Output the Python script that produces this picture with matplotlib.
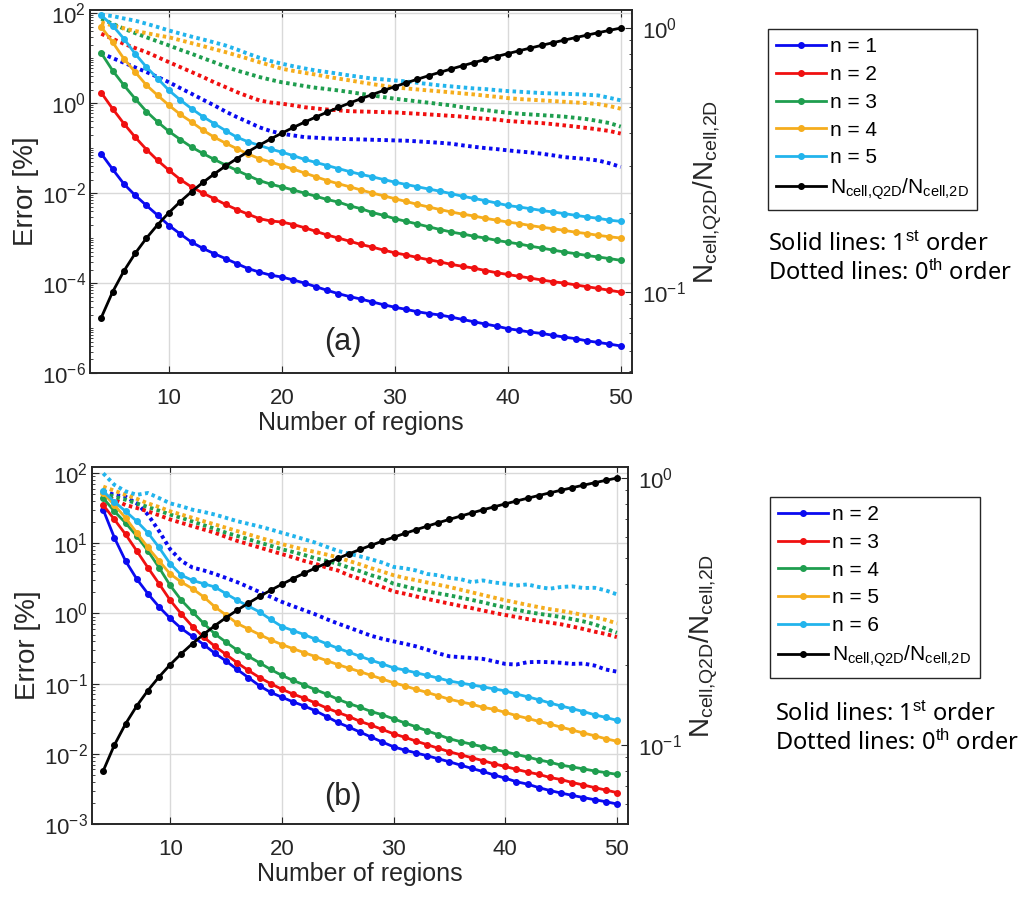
import matplotlib
matplotlib.use('Agg')
import matplotlib.pyplot as plt
import numpy as np
from matplotlib.ticker import LogLocator, NullFormatter

plt.rcParams['font.family'] = 'Liberation Sans'
plt.rcParams['mathtext.fontset'] = 'custom'
plt.rcParams['mathtext.rm'] = 'Liberation Sans'
plt.rcParams['mathtext.it'] = 'Liberation Sans:italic'
plt.rcParams['mathtext.bf'] = 'Liberation Sans:bold'

# number of regions (x axis)
regions = list(range(4, 51))

# N_cell,Q2D / N_cell,2D (right axis, same in both panels)
cell_ratio = [0.08, 0.10, 0.12, 0.14, 0.16, 0.18, 0.20, 0.22, 0.24, 0.26, 0.28, 0.30,
              0.32, 0.34, 0.36, 0.38, 0.40, 0.42, 0.44, 0.46, 0.48, 0.50, 0.52, 0.54,
              0.56, 0.58, 0.60, 0.62, 0.64, 0.66, 0.68, 0.70, 0.72, 0.74, 0.76, 0.78,
              0.80, 0.82, 0.84, 0.86, 0.88, 0.90, 0.92, 0.94, 0.96, 0.98, 1.00]

# ---- panel (a): error [%], 1st order (solid) ----
a_n1 = [7.5e-2, 3.4e-2, 1.6e-2, 8.9e-3, 5.3e-3, 3.2e-3, 1.9e-3, 1.23e-3, 8.1e-4, 5.9e-4,
        4.5e-4, 3.5e-4, 2.7e-4, 2.1e-4, 1.75e-4, 1.5e-4, 1.36e-4, 1.17e-4, 1.0e-4, 8.3e-5,
        6.9e-5, 5.8e-5, 5.0e-5, 4.4e-5, 3.8e-5, 3.3e-5, 2.9e-5, 2.6e-5, 2.3e-5, 2.1e-5,
        1.95e-5, 1.75e-5, 1.55e-5, 1.38e-5, 1.23e-5, 1.1e-5, 9.7e-6, 8.9e-6, 8.1e-6, 7.6e-6,
        6.9e-6, 6.3e-6, 5.8e-6, 5.2e-6, 4.8e-6, 4.4e-6, 4.0e-6]
a_n2 = [1.7, 0.75, 0.35, 0.175, 0.093, 0.053, 0.032, 0.020, 0.0136, 0.0100,
        7.5e-3, 5.6e-3, 4.3e-3, 3.4e-3, 2.7e-3, 2.4e-3, 2.27e-3, 2.0e-3, 1.7e-3, 1.41e-3,
        1.17e-3, 1.0e-3, 8.5e-4, 7.2e-4, 6.3e-4, 5.4e-4, 4.7e-4, 4.2e-4, 3.7e-4, 3.3e-4,
        2.95e-4, 2.6e-4, 2.35e-4, 2.15e-4, 1.9e-4, 1.7e-4, 1.55e-4, 1.41e-4, 1.29e-4, 1.17e-4,
        1.07e-4, 1.0e-4, 9.1e-5, 8.3e-5, 7.6e-5, 6.9e-5, 6.3e-5]
a_n3 = [12.9, 5.3, 2.5, 1.25, 0.65, 0.38, 0.234, 0.155, 0.105, 0.076,
        0.056, 0.042, 0.032, 0.0245, 0.019, 0.0158, 0.0136, 0.0117, 0.0100, 8.5e-3,
        7.2e-3, 6.3e-3, 5.2e-3, 4.5e-3, 3.7e-3, 3.2e-3, 2.7e-3, 2.35e-3, 2.05e-3, 1.78e-3,
        1.55e-3, 1.36e-3, 1.23e-3, 1.1e-3, 1.0e-3, 8.9e-4, 8.1e-4, 7.4e-4, 6.6e-4, 6.0e-4,
        5.4e-4, 4.9e-4, 4.5e-4, 4.1e-4, 3.8e-4, 3.5e-4, 3.2e-4]
a_n4 = [49, 22.7, 9.7, 4.9, 2.5, 1.48, 0.89, 0.56, 0.38, 0.25,
        0.175, 0.129, 0.097, 0.074, 0.058, 0.049, 0.041, 0.034, 0.028, 0.023,
        0.019, 0.0161, 0.0138, 0.0117, 0.0100, 8.7e-3, 7.5e-3, 6.5e-3, 5.6e-3, 4.9e-3,
        4.3e-3, 3.8e-3, 3.4e-3, 3.1e-3, 2.75e-3, 2.5e-3, 2.27e-3, 2.1e-3, 1.9e-3, 1.74e-3,
        1.62e-3, 1.48e-3, 1.35e-3, 1.26e-3, 1.15e-3, 1.07e-3, 1.0e-3]
a_n5 = [89, 53, 27, 12.5, 6.3, 3.5, 1.91, 1.17, 0.75, 0.50,
        0.35, 0.245, 0.175, 0.138, 0.115, 0.095, 0.081, 0.068, 0.056, 0.048,
        0.041, 0.035, 0.030, 0.026, 0.023, 0.020, 0.0175, 0.0155, 0.0138, 0.0123,
        0.0110, 9.7e-3, 8.5e-3, 7.6e-3, 6.8e-3, 6.0e-3, 5.3e-3, 4.9e-3, 4.5e-3, 4.1e-3,
        3.8e-3, 3.5e-3, 3.2e-3, 2.95e-3, 2.75e-3, 2.5e-3, 2.35e-3]

# ---- panel (a): 0th order (dotted) ----
a_n1_0 = [12.9, 10.0, 7.9, 6.2, 4.9, 3.8, 2.9, 2.15, 1.61, 1.19,
          0.89, 0.65, 0.49, 0.38, 0.29, 0.239, 0.208, 0.191, 0.175, 0.170,
          0.164, 0.161, 0.158, 0.156, 0.153, 0.151, 0.148, 0.146, 0.141, 0.136,
          0.131, 0.125, 0.115, 0.107, 0.100, 0.095, 0.089, 0.084, 0.080, 0.075,
          0.069, 0.063, 0.060, 0.057, 0.053, 0.046, 0.038]
a_n2_0 = [34.7, 26.9, 20.8, 16.7, 13.6, 10.5, 8.1, 6.3, 4.9, 3.8,
          2.9, 2.27, 1.76, 1.41, 1.15, 1.03, 0.97, 0.89, 0.81, 0.76,
          0.72, 0.69, 0.66, 0.65, 0.64, 0.63, 0.62, 0.60, 0.58, 0.56,
          0.54, 0.52, 0.50, 0.47, 0.45, 0.43, 0.40, 0.385, 0.37, 0.36,
          0.34, 0.32, 0.30, 0.28, 0.26, 0.24, 0.21]
a_n3_0 = [75, 58, 45, 36, 29, 23.5, 19.1, 15.3, 12.5, 10.0,
          8.1, 6.5, 5.3, 4.5, 3.8, 3.3, 2.9, 2.64, 2.39, 2.19,
          2.05, 1.91, 1.76, 1.61, 1.48, 1.36, 1.25, 1.17, 1.09, 1.02,
          0.95, 0.89, 0.81, 0.75, 0.70, 0.65, 0.61, 0.58, 0.56, 0.54,
          0.52, 0.50, 0.47, 0.44, 0.40, 0.36, 0.30]
a_n4_0 = [62, 53, 46, 40, 36, 32, 29, 25, 21.5, 18.5,
          15.8, 13.6, 11.5, 9.7, 8.1, 6.9, 5.8, 5.2, 4.7, 4.3,
          3.85, 3.5, 3.2, 2.9, 2.64, 2.43, 2.23, 2.12, 2.01, 1.91,
          1.82, 1.73, 1.64, 1.56, 1.46, 1.38, 1.29, 1.23, 1.19, 1.15,
          1.11, 1.07, 1.03, 1.0, 0.95, 0.86, 0.75]
a_n5_0 = [92, 86, 76, 68, 58, 49, 41, 35, 30, 26,
          22.3, 19.1, 15.6, 12.5, 10.2, 8.6, 7.5, 6.6, 5.9, 5.3,
          4.9, 4.5, 4.1, 3.8, 3.5, 3.36, 3.19, 3.03, 2.83, 2.64,
          2.47, 2.35, 2.23, 2.12, 2.05, 1.94, 1.85, 1.79, 1.73, 1.67,
          1.64, 1.61, 1.58, 1.53, 1.48, 1.31, 1.15]

# ---- panel (b): 1st order (solid) ----
b_n2 = [30, 12.0, 5.6, 3.1, 1.91, 1.24, 0.85, 0.61, 0.47, 0.36,
        0.27, 0.21, 0.159, 0.122, 0.093, 0.075, 0.064, 0.055, 0.048, 0.041,
        0.034, 0.028, 0.024, 0.0204, 0.0173, 0.0147, 0.0126, 0.0113, 0.0103, 9.4e-3,
        8.5e-3, 7.7e-3, 6.9e-3, 6.2e-3, 5.6e-3, 5.0e-3, 4.5e-3, 4.0e-3, 3.7e-3, 3.3e-3,
        3.0e-3, 2.76e-3, 2.56e-3, 2.38e-3, 2.22e-3, 2.08e-3, 1.93e-3]
b_n3 = [35, 21.8, 13.4, 7.8, 4.5, 2.65, 1.54, 0.98, 0.65, 0.46,
        0.34, 0.26, 0.198, 0.154, 0.122, 0.100, 0.083, 0.071, 0.062, 0.053,
        0.045, 0.039, 0.034, 0.029, 0.0256, 0.0222, 0.0193, 0.0172, 0.0152, 0.0135,
        0.0120, 0.0107, 9.7e-3, 8.8e-3, 8.0e-3, 7.2e-3, 6.6e-3, 6.0e-3, 5.5e-3, 5.1e-3,
        4.6e-3, 4.3e-3, 3.9e-3, 3.6e-3, 3.3e-3, 3.05e-3, 2.8e-3]
b_n4 = [44, 28.5, 19.5, 12.7, 7.8, 4.5, 2.5, 1.54, 1.05, 0.72,
        0.51, 0.39, 0.30, 0.245, 0.198, 0.159, 0.131, 0.111, 0.096, 0.082,
        0.071, 0.060, 0.052, 0.046, 0.040, 0.036, 0.0315, 0.0276, 0.0243, 0.0213,
        0.0187, 0.0164, 0.0149, 0.0137, 0.0126, 0.0116, 0.0107, 9.8e-3, 9.0e-3, 8.2e-3,
        7.6e-3, 6.9e-3, 6.5e-3, 6.1e-3, 5.7e-3, 5.4e-3, 5.1e-3]
b_n5 = [52, 35, 23, 14.1, 8.7, 5.6, 3.65, 2.79, 2.25, 1.72,
        1.24, 0.95, 0.72, 0.60, 0.50, 0.42, 0.36, 0.315, 0.276, 0.243,
        0.213, 0.187, 0.166, 0.148, 0.131, 0.116, 0.103, 0.093, 0.083, 0.075,
        0.067, 0.060, 0.055, 0.051, 0.046, 0.043, 0.039, 0.035, 0.032, 0.029,
        0.0265, 0.024, 0.0218, 0.0198, 0.0181, 0.0164, 0.0151]
b_n6 = [55, 39, 28.5, 20.6, 14.1, 8.7, 5.1, 3.5, 2.95, 2.65,
        2.38, 1.91, 1.54, 1.27, 1.05, 0.82, 0.65, 0.57, 0.50, 0.43,
        0.37, 0.32, 0.28, 0.245, 0.215, 0.191, 0.168, 0.156, 0.143, 0.131,
        0.120, 0.109, 0.102, 0.096, 0.090, 0.084, 0.079, 0.071, 0.065, 0.059,
        0.053, 0.048, 0.044, 0.040, 0.036, 0.033, 0.030]

# ---- panel (b): 0th order (dotted) ----
b_n2_0 = [55, 49, 46, 37, 25.6, 14.9, 8.2, 5.6, 4.5, 4.1,
          3.65, 3.2, 2.79, 2.38, 2.02, 1.72, 1.46, 1.27, 1.11, 0.97,
          0.83, 0.72, 0.63, 0.55, 0.48, 0.435, 0.40, 0.37, 0.34, 0.305,
          0.27, 0.245, 0.238, 0.232, 0.225, 0.208, 0.191, 0.187, 0.202, 0.204,
          0.202, 0.198, 0.191, 0.193, 0.181, 0.159, 0.148]
b_n3_0 = [49, 41.7, 35, 31.8, 28.5, 25, 21.8, 19.5, 17.5, 15.7,
          14.1, 12.3, 10.8, 9.7, 8.7, 7.8, 7.0, 6.3, 5.6, 5.1,
          4.5, 4.1, 3.5, 3.1, 2.73, 2.38, 2.06, 1.91, 1.75, 1.61,
          1.49, 1.38, 1.28, 1.19, 1.10, 1.02, 0.95, 0.89, 0.83, 0.78,
          0.74, 0.70, 0.65, 0.60, 0.55, 0.51, 0.46]
b_n4_0 = [52, 46, 41.7, 37, 32.8, 29.2, 25.6, 23, 20.4, 18.1,
          16.1, 14.1, 12.7, 11.4, 10.2, 9.2, 8.2, 7.5, 6.8, 6.1,
          5.6, 5.1, 4.5, 4.0, 3.5, 3.15, 2.65, 2.43, 2.23, 2.06,
          1.93, 1.81, 1.68, 1.56, 1.44, 1.32, 1.22, 1.13, 1.05, 0.99,
          0.94, 0.89, 0.83, 0.77, 0.70, 0.61, 0.53]
b_n5_0 = [64, 56, 49, 43, 37, 32.8, 28.5, 25.6, 23, 20.6,
          18.5, 16.6, 14.9, 13.4, 12.0, 10.8, 9.7, 8.9, 8.1, 7.5,
          6.9, 6.3, 5.6, 5.0, 4.4, 3.95, 3.5, 3.2, 2.98, 2.76,
          2.56, 2.38, 2.18, 2.0, 1.83, 1.68, 1.54, 1.43, 1.32, 1.23,
          1.15, 1.09, 1.02, 0.95, 0.88, 0.81, 0.72]
b_n6_0 = [99, 68, 55, 49, 52, 44, 37, 33.6, 30, 27.9,
          25.6, 23, 20.6, 18.9, 17.3, 15.7, 14.1, 12.7, 11.4, 10.2,
          8.9, 7.8, 7.1, 6.5, 5.9, 5.3, 4.6, 4.4, 4.1, 3.65,
          3.5, 3.2, 3.08, 2.79, 2.95, 2.76, 2.65, 2.5, 2.59, 2.38,
          2.25, 2.38, 2.43, 2.3, 2.32, 2.13, 1.87]

colors = ['#0a0af0', '#f01010', '#1f9e4f', '#f5ad1d', '#22b4ec']
axcol = '#262626'
ratio_label = r'N$_{\rm cell{,}Q2D}$/N$_{\rm cell{,}2D}$'

fig = plt.figure(figsize=(10.25, 9.05), dpi=100)
ax_a = fig.add_axes([0.0878, 0.5878, 0.5288, 0.4011])
ax_b = fig.add_axes([0.0898, 0.0895, 0.5229, 0.3945])


def draw_panel(ax, solid, dotted, labels, ylim, yticks, rlim, tag, tagpos, leg_anchor):
    for vals, c in zip(dotted, colors):
        ax.plot(regions, vals, linestyle=(0, (0.9, 0.9)), color=c, lw=2.8,
                dash_capstyle='butt')
    handles = []
    for vals, c in zip(solid, colors):
        h, = ax.plot(regions, vals, '-', marker='.', color=c, lw=2, ms=8)
        handles.append(h)
    ax.set_yscale('log')
    ax.set_xlim(3, 51)
    ax.set_ylim(*ylim)
    ax.set_xticks([10, 20, 30, 40, 50])
    ax.set_yticks(yticks)
    ax.yaxis.set_minor_locator(LogLocator(base=10, subs=np.arange(1, 10), numticks=200))
    ax.yaxis.set_minor_formatter(NullFormatter())
    ax.grid(True, which='major', color='#d9d9d9', lw=1)
    ax.set_axisbelow(True)
    ax.tick_params(axis='both', which='both', direction='in', colors=axcol,
                   labelsize=16, top=True)
    ax.tick_params(axis='x', pad=11)
    ax.tick_params(axis='y', pad=3)
    ax.tick_params(which='major', length=5)
    ax.tick_params(which='minor', length=2.5)
    ax.set_xlabel('Number of regions', fontsize=18, color=axcol, labelpad=1)
    ax.set_ylabel('Error [%]', fontsize=20, color=axcol, labelpad=2)
    for s in ax.spines.values():
        s.set_color(axcol)
        s.set_linewidth(1.2)
    ax.text(tagpos[0], tagpos[1], tag, transform=ax.transAxes, fontsize=22,
            ha='center', va='center', color=axcol)

    axr = ax.twinx()
    hk, = axr.plot(regions, cell_ratio, '-', marker='.', color='black', lw=2, ms=8)
    axr.set_yscale('log')
    axr.set_ylim(*rlim)
    axr.set_yticks([0.1, 1])
    axr.yaxis.set_minor_locator(LogLocator(base=10, subs=np.arange(1, 10), numticks=200))
    axr.yaxis.set_minor_formatter(NullFormatter())
    axr.tick_params(axis='y', which='both', direction='in', colors=axcol,
                    labelsize=16, pad=7)
    axr.tick_params(which='major', length=5)
    axr.tick_params(which='minor', length=2.5)
    axr.set_ylabel(ratio_label, fontsize=20, color=axcol, labelpad=4)
    for s in axr.spines.values():
        s.set_color(axcol)
        s.set_linewidth(1.2)

    handles.append(hk)
    leg = ax.legend(handles, labels + [ratio_label], loc='upper left',
                    bbox_to_anchor=leg_anchor, bbox_transform=fig.transFigure,
                    fontsize=15, frameon=True, fancybox=False, framealpha=1,
                    edgecolor=axcol, handlelength=2.4, handletextpad=0.2,
                    labelspacing=0.42, borderpad=0.4, borderaxespad=0, numpoints=1)
    leg.get_frame().set_linewidth(1.0)
    leg.set_zorder(10)
    return axr


draw_panel(ax_a, [a_n1, a_n2, a_n3, a_n4, a_n5],
           [a_n1_0, a_n2_0, a_n3_0, a_n4_0, a_n5_0],
           ['n = 1', 'n = 2', 'n = 3', 'n = 4', 'n = 5'],
           (1e-6, 117), [1e-6, 1e-4, 1e-2, 1e0, 1e2], (0.0493, 1.17),
           '(a)', (0.467, 0.085), (0.749, 0.968))

draw_panel(ax_b, [b_n2, b_n3, b_n4, b_n5, b_n6],
           [b_n2_0, b_n3_0, b_n4_0, b_n5_0, b_n6_0],
           ['n = 2', 'n = 3', 'n = 4', 'n = 5', 'n = 6'],
           (1e-3, 122), [1e-3, 1e-2, 1e-1, 1e0, 1e1, 1e2], (0.0506, 1.10),
           '(b)', (0.468, 0.076), (0.751, 0.451))

note_kw = dict(fontsize=17, family='Noto Sans', va='center', ha='left', color='black')
fig.text(0.749, 0.729, r'Solid lines: 1$^{\rm st}$ order', **note_kw)
fig.text(0.749, 0.698, r'Dotted lines: 0$^{\rm th}$ order', **note_kw)
fig.text(0.756, 0.210, r'Solid lines: 1$^{\rm st}$ order', **note_kw)
fig.text(0.756, 0.179, r'Dotted lines: 0$^{\rm th}$ order', **note_kw)

fig.savefig('out.png', dpi=100)
